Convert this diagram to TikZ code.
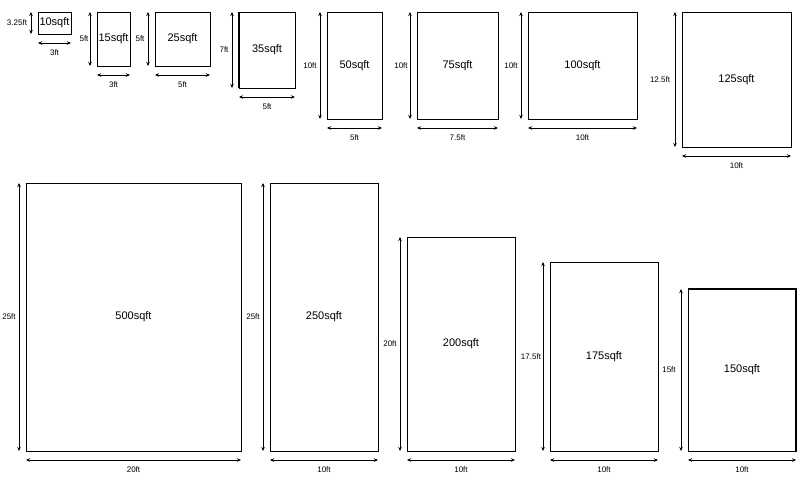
\documentclass[tikz,border=0pt]{standalone}
\usepackage{fontspec}
\setmainfont{Liberation Sans}
\usetikzlibrary{arrows.meta}
\tikzset{
  roombox/.style={draw=black,line width=0.8pt},
  dimarrow/.style={{Stealth[length=4pt,width=3.5pt]}-{Stealth[length=4pt,width=3.5pt]},line width=0.8pt},
  dimlabel/.style={font=\fontsize{8}{9}\selectfont,inner sep=0pt},
  arealabel/.style={font=\fontsize{11}{12}\selectfont,inner sep=0pt}
}
\begin{document}
\begin{tikzpicture}[x=1pt,y=-1pt]
    \useasboundingbox (0,0) rectangle (800,488);
    % rooms: left/top/right/bottom, area, height label, width label, height label x
    \foreach \l/\t/\r/\b/\area/\hgt/\wid/\hx [count=\i] in {
      38/12/71/34/10sqft/3.25ft/3ft/17,
      97/12/130/66/15sqft/5ft/3ft/84,
      155/12/210/66/25sqft/5ft/5ft/140,
      239/12/295/88/35sqft/7ft/5ft/224,
      327/12/382/119/50sqft/10ft/5ft/310,
      417/12/498/119/75sqft/10ft/7.5ft/401,
      528/12/637/119/100sqft/10ft/10ft/511,
      682/12/791/147/125sqft/12.5ft/10ft/660,
      26/183/241/451/500sqft/25ft/20ft/9,
      270/183/378/451/250sqft/25ft/10ft/253,
      407/237/515/451/200sqft/20ft/10ft/390,
      550/262/658/451/175sqft/17.5ft/10ft/531,
      688/289/796/451/150sqft/15ft/10ft/669}{
      \draw[roombox] (\l,\t) rectangle (\r,\b);
      \node[arealabel] (room\i) at ({(\l+\r)/2},{(\t+\b)/2}) {\area};
      % height
      \coordinate (htop\i) at (\l-7,\t);
      \coordinate (hbot\i) at (\l-7,\b);
      \draw[dimarrow] (htop\i) -- (hbot\i);
      \node[dimlabel] (hgt\i) at (\hx,{(\t+\b)/2}) {\hgt};
      % width
      \coordinate (wl\i) at (\l,\b+9);
      \coordinate (wr\i) at (\r,\b+9);
      \draw[dimarrow] (wl\i) -- (wr\i);
      \node[dimlabel] (wid\i) at ({(\l+\r)/2},\b+19) {\wid};
    }
    % heavier edges
    \draw[line width=2pt] (239,12) -- (239,88);
    \draw[line width=2pt] (688,289) -- (796,289) -- (796,451);
\end{tikzpicture}
\end{document}
